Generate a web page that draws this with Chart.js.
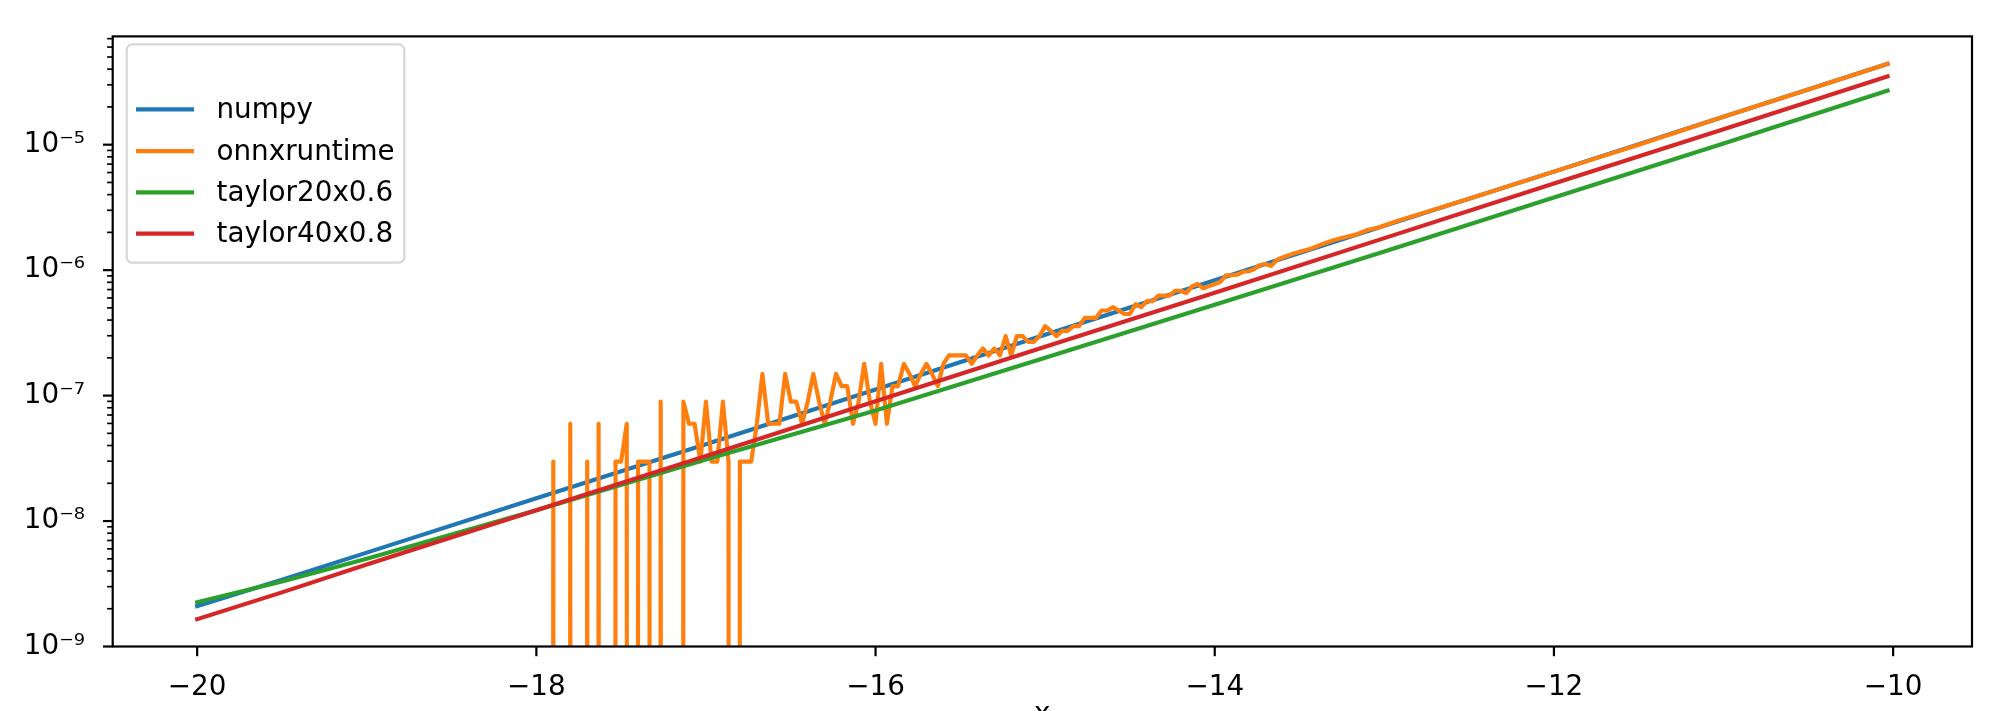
<!DOCTYPE html>
<html><head><meta charset="utf-8">
<script src="https://cdn.jsdelivr.net/npm/chart.js@4.4.1/dist/chart.umd.min.js"></script>
<style>html,body{margin:0;padding:0;background:#fff;}canvas{display:block;}</style>
</head><body>
<canvas id="c" width="2001" height="711" style="width:2001px;height:711px"></canvas>
<script>
// ---- data ----
const seriesNames = ['numpy', 'onnxruntime', 'taylor20x0.6', 'taylor40x0.8'];
const seriesColors = ['#1f77b4', '#ff7f0e', '#2ca02c', '#d62728'];
const xTicks = [-20, -18, -16, -14, -12, -10];
const xTickLabels = ['\u221220', '\u221218', '\u221216', '\u221214', '\u221212', '\u221210'];
const yTicks = [1e-9, 1e-8, 1e-7, 1e-6, 1e-5];
const yTickLabels = ['10\u207B\u2079', '10\u207B\u2078', '10\u207B\u2077', '10\u207B\u2076', '10\u207B\u2075'];
const xLabel = 'x';

const smoothX   = [-20, -19.5, -19, -18, -17, -16, -15, -14, -13, -12, -11, -10.033];
const numpyY    = [2.1e-9, 3.4e-9, 5.6e-9, 1.52e-8, 4.1e-8, 1.12e-7, 3.05e-7, 8.3e-7, 2.26e-6, 6.1e-6, 1.67e-5, 4.4e-5];
const taylor20Y = [2.25e-9, 3.3e-9, 5.0e-9, 1.22e-8, 3.1e-8, 7.6e-8, 2.0e-7, 5.3e-7, 1.41e-6, 3.8e-6, 1.02e-5, 2.7e-5];
const taylor40Y = [1.65e-9, 2.7e-9, 4.5e-9, 1.22e-8, 3.3e-8, 9.0e-8, 2.45e-7, 6.6e-7, 1.8e-6, 4.9e-6, 1.33e-5, 3.5e-5];

const onnxX = [-20,
 -17.933, -17.9, -17.867, -17.833, -17.8, -17.767, -17.733, -17.7, -17.667, -17.633,
 -17.6, -17.567, -17.533, -17.5, -17.467, -17.433, -17.4, -17.367, -17.333, -17.3,
 -17.267, -17.233, -17.2, -17.167, -17.133, -17.1, -17.067, -17.033, -17, -16.967,
 -16.933, -16.9, -16.867, -16.833, -16.8, -16.767, -16.733, -16.7, -16.667, -16.633,
 -16.6, -16.567, -16.533, -16.5, -16.467, -16.433, -16.4, -16.367, -16.333, -16.3,
 -16.267, -16.233, -16.2, -16.167, -16.133, -16.1, -16.067, -16.033, -16, -15.967,
 -15.933, -15.9, -15.867, -15.833, -15.8, -15.767, -15.733, -15.7, -15.667, -15.633,
 -15.6, -15.567, -15.533, -15.5, -15.467, -15.433, -15.4, -15.367, -15.333, -15.3,
 -15.267, -15.233, -15.2, -15.167, -15.133, -15.1, -15.067, -15.033, -15, -14.967,
 -14.933, -14.9, -14.867, -14.833, -14.8, -14.767, -14.733, -14.7, -14.667, -14.633,
 -14.6, -14.567, -14.533, -14.5, -14.467, -14.433, -14.4, -14.367, -14.333, -14.3,
 -14.267, -14.233, -14.2, -14.167, -14.133, -14.1, -14.067, -14.033, -14, -13.967,
 -13.933, -13.9, -13.867, -13.833, -13.8, -13.767, -13.733, -13.7, -13.667, -13.633,
 -13.6, -13.567, -13.533,
 -13.5, -13.433, -13.367, -13.3, -13.233, -13.167, -13.1, -13.033, -12.933,
 -12.5, -12, -11.5, -11, -10.5, -10.033];
const onnxY = [0,
 0, 2.98e-8, 0, 0, 5.96e-8, 0, 0, 2.98e-8, 0, 5.96e-8,
 0, 0, 2.98e-8, 2.98e-8, 5.96e-8, 0, 2.98e-8, 2.98e-8, 2.98e-8, 0,
 8.94e-8, 0, 0, 0, 8.94e-8, 5.96e-8, 5.96e-8, 2.98e-8, 8.94e-8, 2.98e-8,
 2.98e-8, 8.94e-8, 2.98e-8, 0, 2.98e-8, 2.98e-8, 2.98e-8, 5.96e-8, 1.49e-7, 5.96e-8,
 5.96e-8, 5.96e-8, 1.49e-7, 8.94e-8, 8.94e-8, 5.96e-8, 8.94e-8, 1.49e-7, 8.94e-8, 5.96e-8,
 8.94e-8, 1.49e-7, 1.19e-7, 1.19e-7, 5.96e-8, 8.94e-8, 1.79e-7, 8.94e-8, 5.96e-8, 1.79e-7,
 5.96e-8, 1.19e-7, 1.19e-7, 1.79e-7, 1.49e-7, 1.19e-7, 1.49e-7, 1.79e-7, 1.49e-7, 1.19e-7,
 1.79e-7, 2.09e-7, 2.09e-7, 2.09e-7, 2.09e-7, 1.79e-7, 2.09e-7, 2.38e-7, 2.09e-7, 2.38e-7,
 2.09e-7, 2.98e-7, 2.09e-7, 2.98e-7, 2.98e-7, 2.68e-7, 2.68e-7, 2.98e-7, 3.58e-7, 3.28e-7,
 2.98e-7, 3.28e-7, 3.28e-7, 3.58e-7, 3.58e-7, 4.17e-7, 4.17e-7, 4.17e-7, 4.77e-7, 4.77e-7,
 5.07e-7, 4.77e-7, 4.47e-7, 4.47e-7, 5.36e-7, 5.07e-7, 5.66e-7, 5.66e-7, 6.26e-7, 6.26e-7,
 6.26e-7, 6.85e-7, 6.85e-7, 6.56e-7, 7.45e-7, 7.75e-7, 7.15e-7, 7.45e-7, 7.75e-7, 8.05e-7,
 9.1e-7, 9.1e-7, 9.2e-7, 9.7e-7, 9.8e-7, 1.02e-6, 1.10e-6, 1.12e-6, 1.08e-6, 1.21e-6,
 1.26e-6, 1.31e-6, 1.36e-6,
 1.40e-6, 1.48e-6, 1.61e-6, 1.73e-6, 1.83e-6, 1.92e-6, 2.09e-6, 2.19e-6, 2.44e-6,
 3.7e-6, 6.1e-6, 1.0e-5, 1.67e-5, 2.75e-5, 4.4e-5];

// ---- chart ----
const FONT = 27.8;
Chart.defaults.font.family = "'DejaVu Sans', sans-serif";
Chart.defaults.font.size = FONT;
Chart.defaults.color = '#000';

// zero values on a log axis: drop far below the axis (like a clipped log transform)
const logSafe = v => (v > 0 ? v : 1e-100);
const pts = (xs, ys) => xs.map((x, i) => ({ x: x, y: logSafe(ys[i]) }));

const lineStyle = { pointRadius: 0, pointHoverRadius: 0, borderWidth: 4.17, tension: 0,
  borderJoinStyle: 'round', borderCapStyle: 'square', fill: false, clip: 0 };

const datasets = [
  Object.assign({ label: seriesNames[0], data: pts(smoothX, numpyY), borderColor: seriesColors[0], order: 3 }, lineStyle),
  Object.assign({ label: seriesNames[1], data: pts(onnxX, onnxY), borderColor: seriesColors[1], order: 2 }, lineStyle),
  Object.assign({ label: seriesNames[2], data: pts(smoothX, taylor20Y), borderColor: seriesColors[2], order: 1 }, lineStyle),
  Object.assign({ label: seriesNames[3], data: pts(smoothX, taylor40Y), borderColor: seriesColors[3], order: 0 }, lineStyle)
];

// minor tick positions of the log axis
const yAllTicks = [];
yTicks.forEach(base => {
  for (let m = 1; m <= 9; m++) yAllTicks.push(m === 1 ? base : m * base);
});

const frameAndTicks = {
  id: 'frameAndTicks',
  afterDatasetsDraw(chart) {
    const { ctx, chartArea: a, scales } = chart;
    ctx.save();
    ctx.strokeStyle = '#000';
    ctx.lineCap = 'butt';
    scales.y.ticks.forEach(t => {
      if (t.value < scales.y.min || t.value > scales.y.max) return;
      const py = scales.y.getPixelForValue(t.value);
      const major = yTicks.indexOf(t.value) >= 0;
      ctx.lineWidth = major ? 2.2 : 1.67;
      const len = major ? 9.7 : 5.6;
      ctx.beginPath(); ctx.moveTo(a.left - len, py); ctx.lineTo(a.left, py); ctx.stroke();
    });
    scales.x.ticks.forEach(t => {
      const px = scales.x.getPixelForValue(t.value);
      ctx.lineWidth = 2.2;
      ctx.beginPath(); ctx.moveTo(px, a.bottom); ctx.lineTo(px, a.bottom + 9.7); ctx.stroke();
    });
    ctx.lineWidth = 2.2;
    ctx.lineJoin = 'miter';
    ctx.strokeRect(a.left, a.top, a.right - a.left, a.bottom - a.top);
    ctx.restore();
  }
};

const boxLegend = {
  id: 'boxLegend',
  afterDraw(chart) {
    const ctx = chart.ctx;
    ctx.save();
    const x0 = 126.7, y0 = 44.3, x1 = 404.3, y1 = 262.7;
    ctx.beginPath();
    ctx.roundRect(x0, y0, x1 - x0, y1 - y0, 5.5);
    ctx.fillStyle = 'rgba(255,255,255,0.8)';
    ctx.fill();
    ctx.strokeStyle = 'rgba(204,204,204,0.8)';
    ctx.lineWidth = 2.2;
    ctx.stroke();
    const rowsY = [109.3, 151.2, 192.3, 233.7];
    ctx.font = FONT + "px 'DejaVu Sans'";
    ctx.textBaseline = 'alphabetic';
    ctx.textAlign = 'left';
    chart.data.datasets.forEach((ds, i) => {
      const y = rowsY[i];
      ctx.strokeStyle = ds.borderColor;
      ctx.lineWidth = 4.17;
      ctx.lineCap = 'butt';
      ctx.beginPath(); ctx.moveTo(136, y); ctx.lineTo(194, y); ctx.stroke();
      ctx.fillStyle = '#000';
      ctx.fillText(ds.label, 216.5, y + 8.3);
    });
    ctx.restore();
  }
};

new Chart(document.getElementById('c'), {
  type: 'line',
  data: { datasets: datasets },
  options: {
    responsive: false, animation: false, devicePixelRatio: 1, events: [],
    layout: { padding: { left: 0, top: 31, right: 29, bottom: 0 } },
    plugins: { legend: { display: false }, tooltip: { enabled: false } },
    scales: {
      x: {
        type: 'linear', min: -20.498, max: -9.535,
        grid: { display: false }, border: { display: false },
        ticks: {
          autoSkip: false, maxRotation: 0, minRotation: 0, padding: 16.8, color: '#000',
          callback: v => { const i = xTicks.indexOf(v); return i >= 0 ? xTickLabels[i] : ''; }
        },
        title: { display: true, text: xLabel, color: '#000', font: { size: FONT }, padding: { top: 0, bottom: -20.8 } },
        afterBuildTicks: s => { s.ticks = xTicks.map(v => ({ value: v })); },
        afterFit: s => { s.height = 64.5; }
      },
      y: {
        type: 'logarithmic', min: 1e-9, max: 7.3e-5,
        grid: { display: false }, border: { display: false },
        ticks: {
          autoSkip: false, padding: 19.7, color: '#000',
          callback: v => { const i = yTicks.indexOf(v); return i >= 0 ? yTickLabels[i] : ''; }
        },
        afterBuildTicks: s => { s.ticks = yAllTicks.filter(v => v <= 7.3e-5).map(v => ({ value: v, major: yTicks.indexOf(v) >= 0 })); },
        afterFit: s => { s.width = 112.7; }
      }
    }
  },
  plugins: [frameAndTicks, boxLegend]
});
</script>
</body></html>
